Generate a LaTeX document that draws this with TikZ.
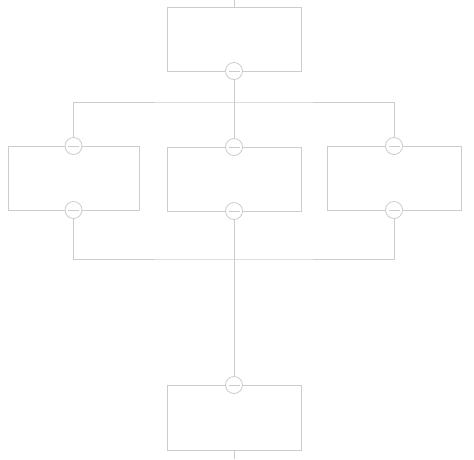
\documentclass[tikz,border=0pt]{standalone}
\usepackage{tikz}
\usetikzlibrary{positioning,calc}

\definecolor{wire}{RGB}{204,204,204}

\begin{document}
\begin{tikzpicture}[x=1pt,y=-1pt,
    link/.style={draw=wire, line width=0.8pt},
    block/.style={rectangle, draw=wire, line width=0.8pt, inner sep=0pt, outer sep=0pt,
                  minimum width=134pt, minimum height=64pt},
    port/.style={circle, draw=wire, fill=white, line width=0.8pt, inner sep=0pt, minimum size=17pt,
                 path picture={\draw[wire, line width=0.6pt] ([xshift=-5.5pt]path picture bounding box.center) -- ([xshift=5.5pt]path picture bounding box.center);}}]
    \useasboundingbox (0,0) rectangle (474,459);

    % blocks
    \node[block] (src) at (234,39) {};
    \node[block, minimum width=131pt] (left) at (73.5,178) {};
    \node[block] (mid) at (234,179) {};
    \node[block] (right) at (394,178) {};
    \node[block, minimum height=65pt] (sink) at (234,417.5) {};

    % free ends and junctions
    \coordinate (feed) at (234,0);
    \coordinate (drain) at (234,459);
    \coordinate (split) at (234,102);
    \coordinate (join) at (234,259);

    % wires
    \draw[link] (feed) -- (src.north);
    \draw[link] (sink.south) -- (drain);
    \draw[link] (src.south) -- (mid.north);
    \draw[link] (left.north) |- (split) -| (right.north);
    \draw[link] (mid.south) -- (sink.north);
    \draw[link] (left.south) |- (join) -| (right.south);

    % ports
    \node[port] (srcout) at (src.south) {};
    \node[port] (leftin) at (left.north) {};
    \node[port] (leftout) at (left.south) {};
    \node[port] (midin) at (mid.north) {};
    \node[port] (midout) at (mid.south) {};
    \node[port] (rightin) at (right.north) {};
    \node[port] (rightout) at (right.south) {};
    \node[port] (sinkin) at (sink.north) {};
\end{tikzpicture}
\end{document}
